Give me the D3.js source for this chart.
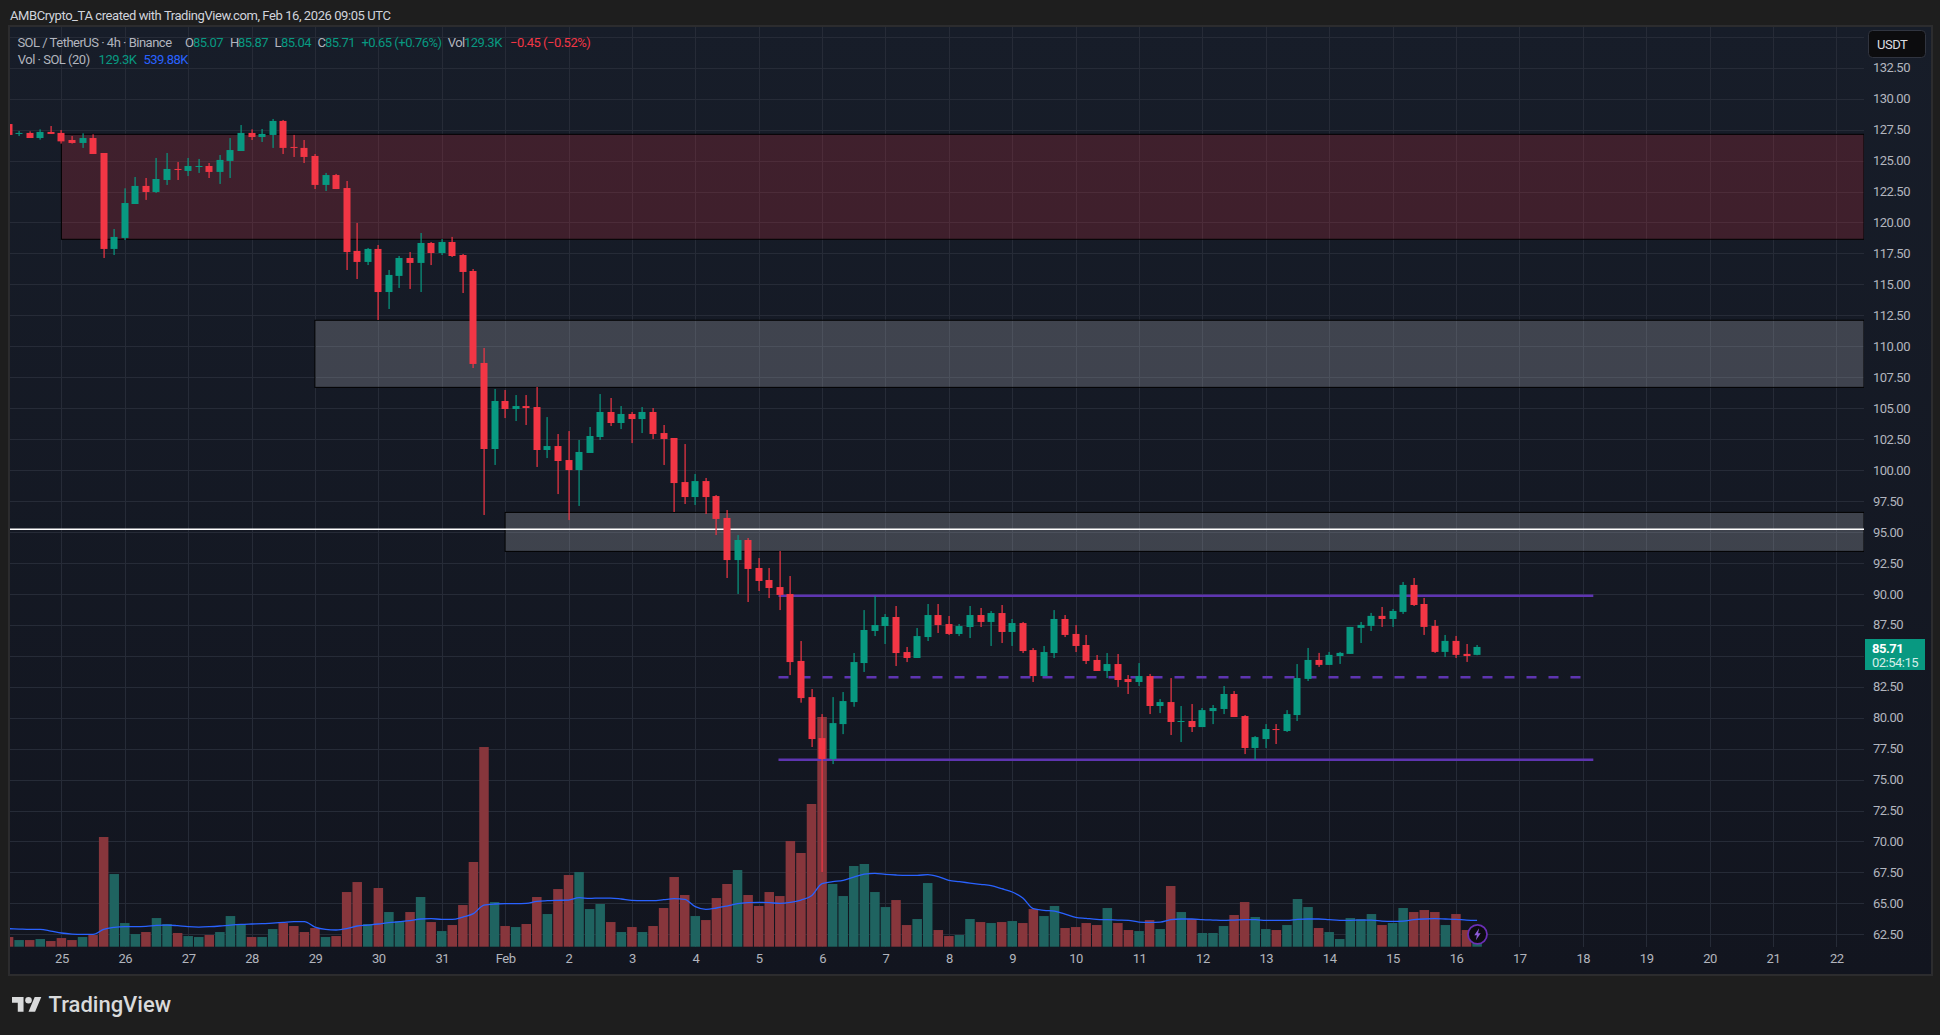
<!DOCTYPE html>
<html>
<head>
<meta charset="utf-8">
<script src="https://cdn.jsdelivr.net/npm/d3@7"></script>
<style>
  html, body { margin: 0; background: #1e1e1e; overflow: hidden; }
  text { font-family: Roboto, sans-serif; letter-spacing: -0.5px; }
</style>
</head>
<body>
<script>
// candles every 4h, the first one at Jan 24 04:00
var opens = [
  127.95,127.17,127.23,126.82,127.31,127.23,126.66,126.42,126.82,125.61,
  117.86,118.75,121.49,122.95,122.46,123.43,124.32,124.16,124.48,124.56,
  124.08,124.97,125.77,127.23,126.90,127.07,128.20,126.10,126.02,125.37,
  123.03,123.83,122.78,117.70,116.81,117.86,114.38,115.68,117.13,116.73,
  118.34,117.53,118.42,117.37,116.08,108.65,101.70,105.58,104.93,105.17,
  105.09,101.62,101.94,100.81,100.00,101.38,102.67,104.69,103.80,104.53,
  104.12,104.69,102.99,102.59,99.03,97.82,99.11,97.90,96.13,92.73,
  94.35,92.09,91.12,90.55,89.99,84.58,81.66,78.35,76.66,79.48,
  81.26,84.41,87.00,87.40,88.13,85.30,84.82,86.51,88.29,87.56,
  86.76,87.32,88.29,87.73,88.45,86.92,87.64,85.46,83.36,85.22,
  87.97,86.76,85.87,84.66,83.77,84.33,83.12,82.88,83.36,80.94,
  81.26,79.65,79.73,79.24,80.53,80.70,81.91,80.13,77.55,78.27,
  79.08,78.92,80.21,83.13,84.66,84.26,84.98,85.15,87.25,87.41,
  88.22,87.97,88.54,90.72,89.18,87.41,85.31,86.20,85.15,85.07
];
var highs = [
  127.95,127.39,127.36,127.52,127.79,127.47,126.98,127.20,127.12,125.61,
  119.47,122.76,123.67,123.59,125.21,125.61,124.88,125.21,125.13,124.80,
  125.45,126.82,127.87,127.52,127.55,128.36,128.28,127.07,126.66,125.53,
  124.00,123.92,123.35,119.96,117.94,118.18,116.16,117.29,117.61,119.15,
  118.42,118.66,118.83,117.45,116.24,109.86,106.55,106.47,106.06,106.06,
  106.71,104.28,102.91,103.15,102.43,103.48,106.14,105.82,105.17,104.69,
  105.09,105.01,103.64,102.59,102.10,99.68,99.36,97.98,96.77,94.75,
  94.51,92.89,92.09,93.46,91.44,86.19,82.31,80.29,81.66,82.07,
  85.22,88.69,89.83,88.37,89.02,85.71,87.24,89.18,89.18,88.21,
  87.56,89.02,88.86,88.61,89.10,87.97,87.73,85.62,85.79,88.69,
  88.29,87.48,86.68,85.06,85.22,85.14,83.44,84.41,83.53,81.50,
  83.20,80.94,81.10,80.78,81.02,82.55,82.15,80.21,78.51,79.48,
  79.48,80.61,84.33,85.63,85.23,85.31,85.31,87.33,87.73,88.46,
  88.94,88.78,90.96,91.28,89.67,87.89,86.68,86.60,85.95,85.87
];
var lows = [
  127.07,126.98,126.82,126.69,127.15,126.37,126.37,126.02,125.53,117.13,
  117.37,118.58,121.49,121.82,122.38,123.03,123.43,123.75,124.00,123.59,
  123.11,123.59,125.77,126.66,126.50,126.02,125.53,125.29,124.80,122.70,
  122.54,122.70,116.16,115.43,116.56,112.12,113.01,114.71,114.63,114.38,
  116.56,117.37,117.21,114.30,108.24,96.37,100.41,104.20,103.96,103.64,
  100.25,100.97,98.06,95.96,97.10,101.38,102.43,103.56,103.31,102.18,
  102.99,102.51,100.41,96.61,97.26,97.18,96.45,94.75,91.28,89.99,
  89.34,90.23,89.66,88.69,83.44,81.21,77.63,67.53,76.25,78.67,
  80.88,83.69,86.59,85.95,84.17,84.49,84.82,86.19,86.84,86.68,
  86.59,86.43,87.32,85.79,86.03,85.79,85.22,82.88,83.36,84.82,
  86.51,85.30,84.33,83.77,83.20,82.48,81.91,82.56,80.29,80.37,
  78.60,78.03,78.84,79.24,79.48,80.29,80.05,77.06,76.58,77.55,
  77.87,78.84,79.73,82.96,84.10,84.26,84.34,85.15,86.03,87.00,
  87.33,87.33,88.38,89.02,86.68,85.23,84.90,84.82,84.50,85.04
];
var closes = [
  127.07,127.23,126.82,127.31,127.15,126.55,126.42,126.82,125.53,117.86,
  118.83,121.57,122.95,122.46,123.51,124.32,124.24,124.56,124.56,124.08,
  125.05,125.85,127.23,126.90,127.15,128.20,126.02,126.02,125.29,123.03,
  123.83,122.70,117.61,116.81,117.86,114.38,115.76,117.13,116.73,118.34,
  117.53,118.42,117.29,116.00,108.57,101.70,105.58,104.93,105.17,105.01,
  101.62,101.94,100.73,100.00,101.46,102.75,104.69,103.80,104.53,104.12,
  104.69,102.91,102.51,98.95,97.82,99.11,97.82,96.05,92.73,94.35,
  92.01,91.04,90.47,89.91,84.49,81.58,78.27,76.66,79.56,81.34,
  84.49,87.08,87.48,88.13,85.22,84.82,86.59,88.29,87.48,86.76,
  87.40,88.29,87.73,88.45,86.92,87.64,85.38,83.36,85.30,87.97,
  86.68,85.79,84.58,83.77,84.33,83.04,82.88,83.36,80.94,81.26,
  79.65,79.73,79.24,80.61,80.78,81.91,80.05,77.55,78.43,79.08,
  79.00,80.29,83.20,84.66,84.26,85.07,85.23,87.33,87.49,88.22,
  87.97,88.62,90.72,89.10,87.33,85.31,86.20,85.07,84.98,85.71
];
// volume in thousands
var volumes = [
  198,136,136,157,116,177,136,198,239,2243,
  1486,484,259,300,586,464,280,218,198,239,
  300,627,464,198,198,361,484,423,300,382,
  198,218,1118,1322,464,1200,709,525,709,1016,
  504,320,443,852,1732,4083,913,423,402,464,
  1016,668,1179,1466,1527,770,873,504,300,402,
  300,423,791,1425,1057,627,545,995,1282,1568,
  1057,832,1118,1036,2161,1916,2918,4697,1282,1036,
  1650,1691,1118,811,954,443,566,1302,341,218,
  239,566,504,484,504,525,484,770,627,832,
  382,402,484,443,791,484,341,320,545,361,
  1241,709,566,280,280,423,648,913,607,361,
  341,443,975,811,382,300,157,586,566,668,
  443,484,791,709,750,709,443,668,341,129.3
];
var volumeMA = [
  368,361,354,354,320,280,259,252,252,354,
  395,409,409,416,436,443,429,409,402,409,
  423,443,457,464,470,484,498,511,511,402,
  354,341,368,423,443,464,491,511,532,566,
  573,559,559,607,675,852,873,879,879,886,
  927,941,948,954,1002,988,995,995,975,948,
  941,941,961,982,968,818,764,791,832,879,
  900,907,900,886,907,954,1043,1288,1329,1357,
  1425,1486,1500,1479,1466,1459,1459,1473,1432,1357,
  1329,1302,1275,1248,1186,1118,995,777,743,729,
  668,600,579,559,552,545,539,504,498,504,
  552,566,566,552,545,539,545,552,552,539,
  539,539,559,566,566,552,539,539,545,545,
  525,518,525,552,566,573,566,559,545,539.88
];
var priceTicks = [62.5,65,67.5,70,72.5,75,77.5,80,82.5,85,87.5,90,92.5,95,97.5,100,102.5,105,107.5,110,112.5,115,117.5,120,122.5,125,127.5,130,132.5];
var extraGridPrice = 135;
var hiddenPriceLabel = 85; // covered by the last price box
var dayTicks = ['2026-01-25','2026-01-26','2026-01-27','2026-01-28','2026-01-29','2026-01-30','2026-01-31','2026-02-01','2026-02-02','2026-02-03','2026-02-04','2026-02-05','2026-02-06','2026-02-07','2026-02-08','2026-02-09','2026-02-10','2026-02-11','2026-02-12','2026-02-13','2026-02-14','2026-02-15','2026-02-16','2026-02-17','2026-02-18','2026-02-19','2026-02-20','2026-02-21','2026-02-22'];

// drawings on the chart: [start date, top price, bottom price]
var redZone = ['2026-01-25', 127.12, 118.64];
var greyZoneUpper = ['2026-01-29', 112.10, 106.68];
var greyZoneLower = ['2026-02-01', 96.58, 93.43];
var whiteLevel = 95.22;
var rangeStart = '2026-02-05T07:30Z';
var rangeEnd = '2026-02-18T04:00Z';
var meanEnd = '2026-02-18T00:00Z';
var rangeHigh = 89.85, rangeMean = 83.26, rangeLow = 76.60;
var firstCandle = Date.UTC(2026, 0, 24, 4);

var width = 1940, height = 1035;
var pane = { left: 10, right: 1864, top: 27, bottom: 947, outerRight: 1931, outerBottom: 974 };
var green = '#089981', red = '#f23645';
var hour4 = 4 * 3600 * 1000;
var labelSize = '13px';

var utc = function(s) { return new Date(s.length > 10 ? s : s + 'T00:00Z'); };

var x = d3.scaleUtc()
    .domain([utc('2026-01-25'), utc('2026-02-22')])
    .range([61.4, 1836.3]);
var y = d3.scaleLinear()
    .domain([62.5, 132.5])
    .range([934.3, 67.7]);
var yVol = d3.scaleLinear()
    .domain([0, 4697])
    .range([946.7, 717]);

var candleDate = function(i) { return new Date(firstCandle + i * hour4); };
var bodyW = 7, barW = 9.5;

var svg = d3.select('body').append('svg')
    .attr('width', width)
    .attr('height', height)
    .style('display', 'block');

var defs = svg.append('defs');
var grad = defs.append('linearGradient').attr('id', 'paneBg')
    .attr('x1', 0).attr('y1', 0).attr('x2', 0).attr('y2', 1);
grad.append('stop').attr('offset', '0%').attr('stop-color', '#171d29');
grad.append('stop').attr('offset', '100%').attr('stop-color', '#12151f');
defs.append('clipPath').attr('id', 'paneClip').append('rect')
    .attr('x', pane.left).attr('y', pane.top)
    .attr('width', pane.right - pane.left).attr('height', pane.bottom - pane.top);

// background and frame
svg.append('rect').attr('width', width).attr('height', height).attr('fill', '#1e1e1e');
svg.append('rect')
    .attr('x', pane.left - 1).attr('y', pane.top - 1)
    .attr('width', pane.outerRight - pane.left + 2).attr('height', pane.outerBottom - pane.top + 2)
    .attr('fill', 'url(#paneBg)')
    .attr('stroke', '#2c2c2e')
    .attr('stroke-width', 2);

// grid
var grid = svg.append('g').attr('stroke', '#262b37').attr('stroke-width', 1);
grid.selectAll('.h').data(priceTicks.concat([extraGridPrice])).join('line')
    .attr('x1', pane.left).attr('x2', pane.right)
    .attr('y1', function(d) { return Math.round(y(d)) + 0.5; })
    .attr('y2', function(d) { return Math.round(y(d)) + 0.5; });
grid.selectAll('.v').data(dayTicks).join('line')
    .attr('x1', function(d) { return Math.round(x(utc(d))) + 0.5; })
    .attr('x2', function(d) { return Math.round(x(utc(d))) + 0.5; })
    .attr('y1', pane.top).attr('y2', pane.bottom);

var chart = svg.append('g').attr('clip-path', 'url(#paneClip)');

// volume sits behind everything
chart.append('g').selectAll('rect').data(volumes).join('rect')
    .attr('x', function(d, i) { return x(candleDate(i)) - barW / 2; })
    .attr('width', barW)
    .attr('y', function(d) { return yVol(d); })
    .attr('height', function(d) { return yVol(0) - yVol(d); })
    .attr('fill', function(d, i) { return closes[i] >= opens[i] ? '#1f6360' : '#87363c'; });

var maLine = d3.line()
    .x(function(d, i) { return x(candleDate(i)); })
    .y(function(d) { return yVol(d); })
    .curve(d3.curveMonotoneX);
chart.append('path')
    .datum(volumeMA)
    .attr('d', maLine)
    .attr('fill', 'none')
    .attr('stroke', '#2962ff')
    .attr('stroke-width', 1.3);

// zones
function zone(z, fill) {
  chart.append('rect')
      .attr('x', x(utc(z[0])))
      .attr('y', y(z[1]))
      .attr('width', pane.right - x(utc(z[0])))
      .attr('height', y(z[2]) - y(z[1]))
      .attr('fill', fill)
      .attr('stroke', '#000')
      .attr('stroke-width', 1);
}
zone(redZone, 'rgba(242,54,69,0.19)');
zone(greyZoneUpper, 'rgba(178,181,190,0.27)');
zone(greyZoneLower, 'rgba(178,181,190,0.27)');

chart.append('line')
    .attr('x1', pane.left).attr('x2', pane.right)
    .attr('y1', y(whiteLevel)).attr('y2', y(whiteLevel))
    .attr('stroke', '#fff').attr('stroke-width', 1.5);

// range lines
var purple = '#5e35b1';
[rangeHigh, rangeLow].forEach(function(p) {
  chart.append('line')
      .attr('x1', x(utc(rangeStart))).attr('x2', x(utc(rangeEnd)))
      .attr('y1', y(p)).attr('y2', y(p))
      .attr('stroke', purple).attr('stroke-width', 2.4);
});
chart.append('line')
    .attr('x1', x(utc(rangeStart))).attr('x2', x(utc(meanEnd)))
    .attr('y1', y(rangeMean)).attr('y2', y(rangeMean))
    .attr('stroke', purple).attr('stroke-width', 2.4)
    .attr('stroke-dasharray', '10 12');

// candles
var candles = chart.append('g').selectAll('g').data(opens).join('g')
    .attr('fill', function(d, i) { return closes[i] >= opens[i] ? green : red; });
candles.append('rect')
    .attr('x', function(d, i) { return Math.round(x(candleDate(i))) - 0.5; })
    .attr('width', 1.2)
    .attr('y', function(d, i) { return y(highs[i]); })
    .attr('height', function(d, i) { return y(lows[i]) - y(highs[i]); });
candles.append('rect')
    .attr('x', function(d, i) { return Math.round(x(candleDate(i))) - bodyW / 2; })
    .attr('width', bodyW)
    .attr('y', function(d, i) { return y(Math.max(opens[i], closes[i])); })
    .attr('height', function(d, i) { return Math.max(1, Math.abs(y(opens[i]) - y(closes[i]))); });

// axes
var yAxis = d3.axisRight(y)
    .tickValues(priceTicks.filter(function(d) { return d !== hiddenPriceLabel; }))
    .tickFormat(d3.format('.2f'))
    .tickSize(0)
    .tickPadding(9);
var gy = svg.append('g')
    .attr('transform', 'translate(' + pane.right + ',0)')
    .call(yAxis);
gy.select('.domain').remove();
gy.selectAll('text').attr('fill', '#b2b5be').style('font-size', labelSize);

var xAxis = d3.axisBottom(x)
    .tickValues(dayTicks.map(utc))
    .tickFormat(function(d) { return d.getUTCDate() === 1 ? 'Feb' : d.getUTCDate(); })
    .tickSize(0)
    .tickPadding(7);
var gx = svg.append('g')
    .attr('transform', 'translate(0,' + pane.bottom + ')')
    .call(xAxis);
gx.select('.domain').remove();
gx.selectAll('text').attr('fill', '#b2b5be').style('font-size', labelSize);

// USDT button
svg.append('rect')
    .attr('x', 1868.5).attr('y', 30.5).attr('width', 57).attr('height', 27).attr('rx', 4)
    .attr('fill', '#0c0c0e').attr('stroke', '#30343f');
svg.append('text').attr('x', 1877).attr('y', 49)
    .attr('fill', '#dcdde0').style('font-size', labelSize).text('USDT');

// last price label
svg.append('rect')
    .attr('x', 1865).attr('y', 639).attr('width', 60).attr('height', 31)
    .attr('fill', green);
svg.append('text').attr('x', 1872).attr('y', 652.5)
    .attr('fill', '#fff').style('font-size', labelSize).style('font-weight', 700).text('85.71');
svg.append('text').attr('x', 1872).attr('y', 666.5)
    .attr('fill', '#d5eee9').style('font-size', labelSize).text('02:54:15');

// header and legend
svg.append('text').attr('x', 10).attr('y', 20)
    .attr('fill', '#d1d4dc').style('font-size', labelSize).style('letter-spacing', '-0.42px')
    .text('AMBCrypto_TA created with TradingView.com, Feb 16, 2026 09:05 UTC');

var grey = '#b2b5be', blue = '#2962ff';
var legendItems = [
  [17.4, 46.5, grey, 'SOL / TetherUS \u00b7 4h \u00b7 Binance'],
  [184.9, 46.5, grey, 'O'], [193, 46.5, green, '85.07'],
  [230, 46.5, grey, 'H'], [238, 46.5, green, '85.87'],
  [274.4, 46.5, grey, 'L'], [281, 46.5, green, '85.04'],
  [317.5, 46.5, grey, 'C'], [325, 46.5, green, '85.71'],
  [361.4, 46.5, green, '+0.65 (+0.76%)'],
  [447.7, 46.5, grey, 'Vol'], [464, 46.5, green, '129.3K'],
  [510, 46.5, red, '\u22120.45 (\u22120.52%)'],
  [17.8, 63.5, grey, 'Vol \u00b7 SOL (20)'],
  [98.6, 63.5, green, '129.3K'], [143.4, 63.5, blue, '539.88K']
];
svg.append('g').selectAll('text').data(legendItems).join('text')
    .attr('x', function(d) { return d[0]; })
    .attr('y', function(d) { return d[1]; })
    .attr('fill', function(d) { return d[2]; })
    .style('font-size', labelSize)
    .text(function(d) { return d[3]; });

// last bar marker
var icon = svg.append('g').attr('transform', 'translate(1477.5,934.3)');
icon.append('circle').attr('r', 9.5).attr('fill', '#0c0c10').attr('stroke', '#6a2fb5').attr('stroke-width', 1.8);
icon.append('path').attr('d', 'M1.6 -6 L-3.2 1 L-0.6 1 L-1.6 6 L3.2 -1 L0.6 -1 Z').attr('fill', '#8d5bd6');

// logo
var logo = svg.append('g').attr('transform', 'translate(12,993.7) scale(0.825)').attr('fill', '#d9dadb');
logo.append('path').attr('d', 'M14 22H7V11H0V4h14v18zM28 22h-8l7.5-18h8L28 22z');
logo.append('circle').attr('cx', 20).attr('cy', 8).attr('r', 4);
svg.append('text').attr('x', 48.5).attr('y', 1012)
    .attr('fill', '#d9dadb')
    .style('letter-spacing', '0')
    .style('font-size', '22px').style('font-weight', 500).text('TradingView');
</script>
</body>
</html>
